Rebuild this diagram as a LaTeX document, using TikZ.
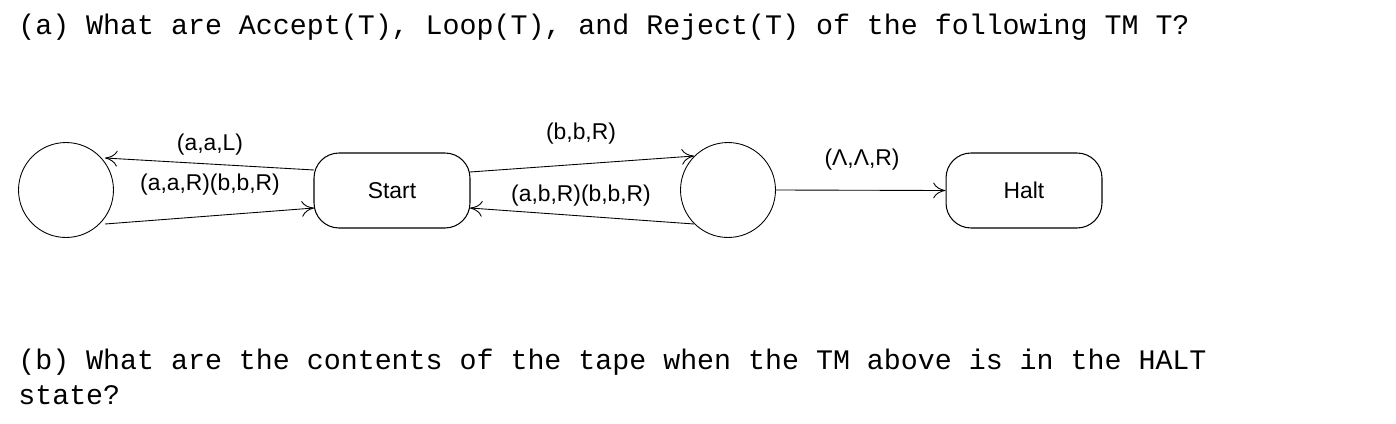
\documentclass[tikz,border=0pt]{standalone}
\usepackage{fontspec}
\setmainfont{Liberation Sans}
\newfontfamily\monof{Liberation Mono}
\usetikzlibrary{arrows.meta}
\begin{document}
\begin{tikzpicture}[x=0.02cm,y=-0.02cm,
  st/.style={draw,circle,minimum size=1.9cm,inner sep=0pt,line width=0.5pt},
  bx/.style={draw,rounded corners=0.5cm,minimum width=3.12cm,minimum height=1.5cm,line width=0.6pt,font=\fontsize{13}{15}\selectfont},
  tr/.style={-{To[length=7pt,width=9pt]},line width=0.5pt},
  lb/.style={font=\fontsize{13}{15}\selectfont},
  qt/.style={font=\monof\fontsize{16.1}{19}\selectfont,anchor=west,inner sep=0pt}]
\useasboundingbox (0,0) rectangle (1396,423);
\node[qt] (qa) at (18,27) {(a) What are Accept(T), Loop(T), and Reject(T) of the following TM T?};
\node[qt] (qb1) at (18,362) {(b) What are the contents of the tape when the TM above is in the HALT};
\node[qt] (qb2) at (18,395) {state?};
\node[st] (L) at (66,190) {};
\node[bx] (S) at (392,190.5) {Start};
\node[st] (M) at (728,190) {};
\node[bx] (H) at (1024,190.5) {Halt};
\coordinate (s1) at (314,170); \coordinate (l1) at (105,158);
\coordinate (l2) at (105,224); \coordinate (s2) at (314,208);
\coordinate (s3) at (470,172); \coordinate (m1) at (694,156);
\coordinate (m2) at (694,224); \coordinate (s4) at (470,208);
\draw[tr] (s1) -- (l1);
\draw[tr] (l2) -- (s2);
\draw[tr] (s3) -- (m1);
\draw[tr] (m2) -- (s4);
\draw[tr] (M.east) -- (H.west);
\node[lb] (t1) at (210,145) {(a,a,L)};
\node[lb] (t2) at (210,185) {(a,a,R)(b,b,R)};
\node[lb] (t3) at (581,134) {(b,b,R)};
\node[lb] (t4) at (581,196) {(a,b,R)(b,b,R)};
\node[lb] (t5) at (862,160) {(Λ,Λ,R)};
\end{tikzpicture}
\end{document}
